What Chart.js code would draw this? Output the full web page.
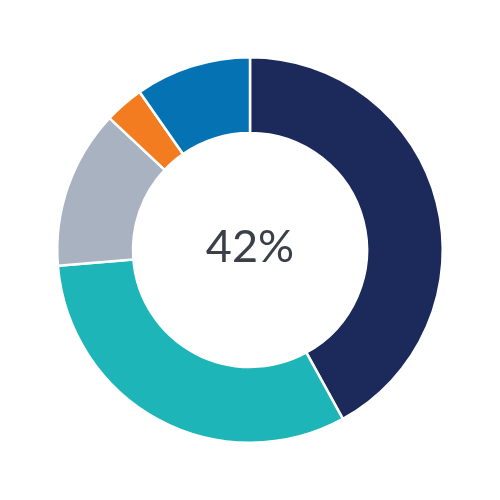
<!DOCTYPE html>
<html>
<head>
<meta charset="utf-8">
<script src="https://cdn.jsdelivr.net/npm/chart.js@4"></script>
<style>
  html, body { margin: 0; padding: 0; background: #fff; }
  #wrap { width: 500px; height: 500px; }
</style>
</head>
<body>
<div id="wrap"><canvas id="donut" width="500" height="500"></canvas></div>
<script>
// values, clockwise from 12 o'clock
const labels = ['Navy', 'Teal', 'Gray', 'Orange', 'Blue'];
const values = [42, 31.7, 13.3, 3.3, 9.7];
const colors = ['#1b2a5b', '#1db5b7', '#a8b2c1', '#f47c20', '#0573b3'];
const centerText = '42%';

const centerLabel = {
    id: 'centerLabel',
    afterDraw(chart) {
        const ctx = chart.ctx;
        const arc = chart.getDatasetMeta(0).data[0];
        ctx.save();
        ctx.fillStyle = '#3b4048';
        ctx.font = '400 45px Lato';
        ctx.textAlign = 'center';
        ctx.textBaseline = 'middle';
        ctx.fillText(centerText, arc.x, arc.y - 3);
        ctx.restore();
    }
};

new Chart(document.getElementById('donut'), {
    type: 'doughnut',
    data: {
        labels: labels,
        datasets: [{
            data: values,
            backgroundColor: colors,
            borderColor: '#ffffff',
            borderWidth: 2.5
        }]
    },
    options: {
        responsive: false,
        animation: false,
        cutout: 117,
        layout: { padding: 56 },
        plugins: {
            legend: { display: false },
            tooltip: { enabled: false }
        }
    },
    plugins: [centerLabel]
});
</script>
</body>
</html>
